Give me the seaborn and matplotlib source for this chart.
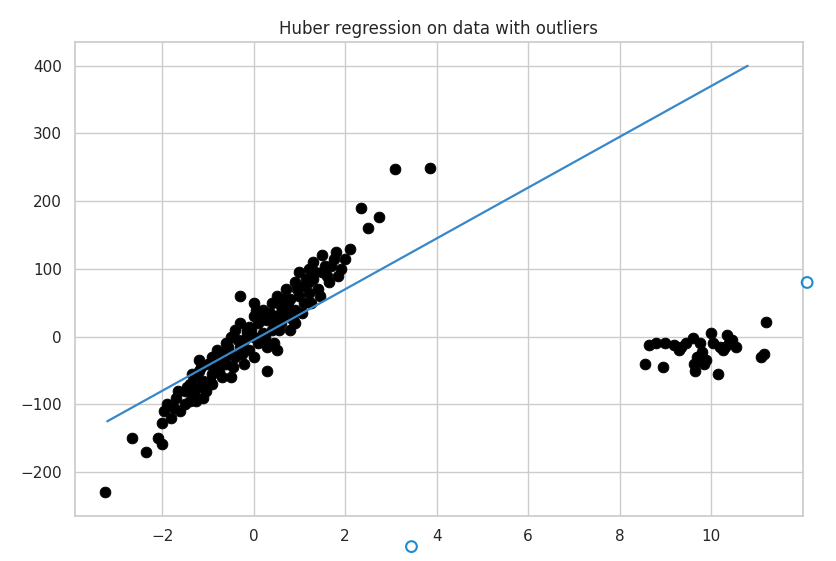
import numpy as np
import pandas as pd
import matplotlib
matplotlib.use("Agg")
import matplotlib.pyplot as plt
import seaborn as sns

# main cluster
x_main = [-1.9, -1.8, -1.7, -1.6, -1.5, -1.5, -1.4, -1.4, -1.3, -1.3, -1.2, -1.2, -1.1, -1.1,
          -1.0, -1.0, -0.9, -0.9, -0.8, -0.8, -0.7, -0.7, -0.6, -0.6, -0.5, -0.5, -0.4, -0.4,
          -0.3, -0.3, -0.2, -0.2, -0.1, -0.1, 0.0, 0.0, 0.0, 0.1, 0.1, 0.2, 0.2, 0.3, 0.3,
          0.4, 0.4, 0.5, 0.5, 0.6, 0.6, 0.7, 0.7, 0.8, 0.8, 0.9, 0.9, 1.0, 1.0, 1.1, 1.1,
          1.2, 1.2, 1.3, 1.3, 1.4, 1.5, 1.5, 1.6, 1.7, 1.8, 1.9, 2.0, -0.5, 0.5,
          -1.75, -1.65, -1.45, -1.35, -1.25, -1.15, -1.05, -0.95, -0.85, -0.75, -0.65, -0.55,
          -0.45, -0.35, -0.25, -0.15, -0.05, 0.05, 0.15, 0.25, 0.35, 0.45, 0.55, 0.65, 0.75,
          0.85, 0.95, 1.05, 1.15, 1.25, 1.35, 1.45, 1.55, 1.65, 1.75, 1.85, 0.0, 0.3, -0.3,
          0.6, -0.6, 0.9, -0.9, 1.2, -1.2, 0.15, -0.15, 0.45, -0.45]
y_main = [-100, -120, -90, -110, -80, -100, -95, -70, -85, -60, -75, -50, -90, -65,
          -40, -70, -55, -30, -45, -20, -60, -35, -10, -40, -25, 0, -30, 10,
          -15, 20, -5, -40, 15, -20, 0, 30, -30, 20, -10, 40, 5, 25, -15,
          50, 10, 30, 60, 20, 45, 70, 30, 55, 10, 80, 40, 60, 95, 50, 75,
          100, 65, 85, 110, 70, 95, 120, 90, 105, 125, 100, 115, -60, -20,
          -105, -80, -75, -55, -95, -45, -80, -65, -35, -50, -25, -15,
          -45, -5, -25, 5, 10, 40, 25, 0, 35, 20, 10, 55, 45,
          25, 70, 35, 85, 50, 95, 60, 105, 80, 115, 90, 50, -50, 60,
          35, -20, 20, -70, 80, -35, -5, 10, -10, 0]

# extreme points of the cluster
x_edge = [-3.25, -2.65, -2.35, -2.1, -2.0, 3.1, 3.85, 2.35, 2.75, 2.5, 2.1, -2.0, -1.95]
y_edge = [-230, -150, -170, -150, -158, 247, 249, 190, 177, 160, 130, -128, -110]

# far outliers
x_out = [8.55, 8.65, 8.8, 8.95, 9.0, 9.2, 9.3, 9.35, 9.45, 9.6, 9.65, 9.7, 9.75, 9.8,
         9.85, 9.9, 10.0, 10.05, 10.15, 10.25, 10.3, 10.35, 10.4, 10.45, 10.55, 11.1,
         11.15, 11.2, 9.62, 10.2]
y_out = [-40, -12, -10, -45, -10, -12, -20, -15, -10, -2, -50, -30, -10, -22,
         -40, -35, 5, -10, -55, -20, -15, 2, -10, -5, -15, -30, -25, 22, -40, -15]

line_x = [-3.2, 10.8]
line_y = [-125, 400]

# markers drawn off the axes area
off_x = [3.45, 12.1]
off_y = [-310, 80]

sns.set_theme(style="whitegrid")
fig, ax = plt.subplots(figsize=(8.36, 5.61), dpi=100)

pts = pd.DataFrame({"x": x_main + x_edge + x_out, "y": y_main + y_edge + y_out})
sns.scatterplot(data=pts, x="x", y="y", color="black", s=60, edgecolor="black", ax=ax)
sns.lineplot(x=line_x, y=line_y, color="#3a87c8", linewidth=1.6, ax=ax)
ax.scatter(off_x, off_y, s=60, facecolors="none", edgecolors="#1f8bd0",
           linewidths=1.5, clip_on=False, zorder=5)

ax.set_xlim(-3.9, 12.0)
ax.set_ylim(-265, 435)
ax.set_xticks([-2, 0, 2, 4, 6, 8, 10])
ax.set_yticks([-200, -100, 0, 100, 200, 300, 400])
ax.tick_params(labelsize=11)
ax.set_xlabel("")
ax.set_ylabel("")
ax.set_title("Huber regression on data with outliers")
fig.subplots_adjust(left=0.09, right=0.96, top=0.925, bottom=0.08)
fig.savefig("out.png")
